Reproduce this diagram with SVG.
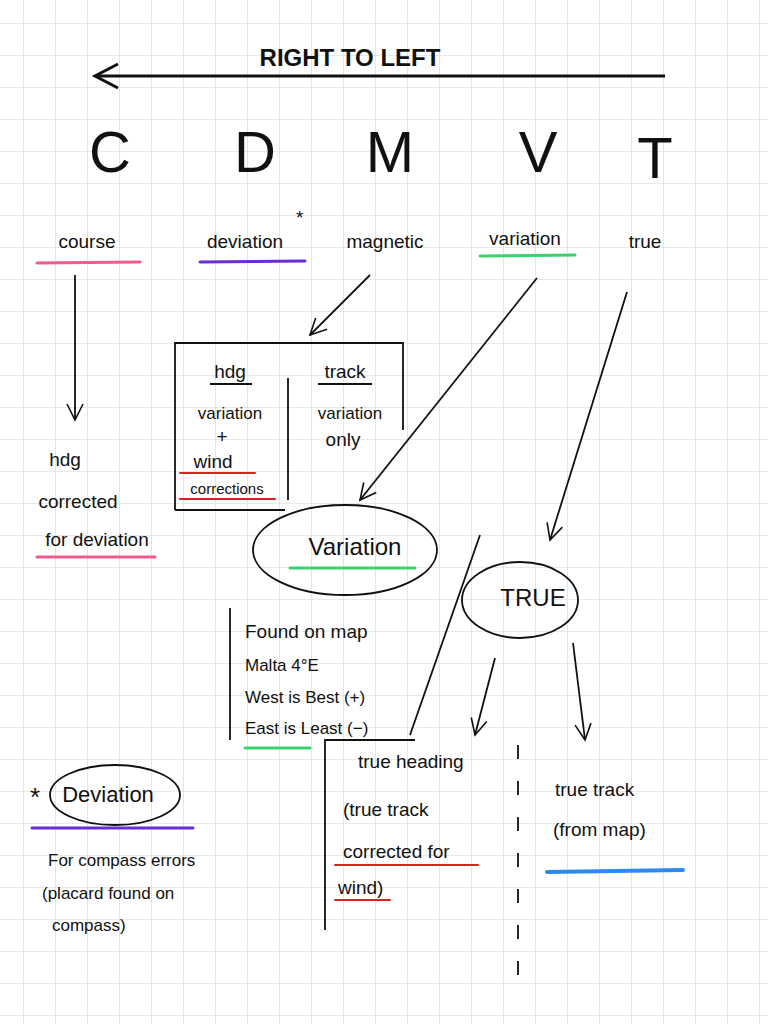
<svg xmlns="http://www.w3.org/2000/svg" width="768" height="1024" viewBox="0 0 768 1024">
<defs>
<pattern id="grid" width="32" height="32" patternUnits="userSpaceOnUse" x="-8" y="-8">
<path d="M32 0V32M0 32H32" fill="none" stroke="#d4d4d4" stroke-width="1.2"/>
</pattern>
<marker id="ah" viewBox="0 0 20 20" refX="18" refY="10" markerWidth="20" markerHeight="20" markerUnits="userSpaceOnUse" orient="auto">
<path d="M2 2L18 10L2 18" fill="none" stroke="#111" stroke-width="1.6"/>
</marker>
<style>
text{font-family:"Liberation Sans",sans-serif;fill:#111;font-size:19px}
.big{font-size:58px;font-weight:300;text-anchor:middle}
.ln{stroke:#111;stroke-width:1.8;fill:none}
.u{stroke-width:3;fill:none;stroke-linecap:round}
</style>
</defs>
<rect width="768" height="1024" fill="#fff"/>
<rect width="768" height="1024" fill="url(#grid)"/>
<text x="350" y="66" text-anchor="middle" font-weight="bold" style="font-size:24px">RIGHT TO LEFT</text>
<line class="ln" x1="665" y1="76" x2="95" y2="76" stroke-width="3" style="stroke-width:3"/>
<path class="ln" d="M118 64L95 76L118 88" style="stroke-width:3"/>
<text class="big" x="110" y="172">C</text>
<text class="big" x="255" y="172">D</text>
<text class="big" x="390" y="172">M</text>
<text class="big" x="538" y="172">V</text>
<text class="big" x="655" y="178">T</text>
<text x="87" y="248" text-anchor="middle">course</text>
<text x="245" y="248" text-anchor="middle">deviation</text>
<text x="296" y="224">*</text>
<text x="385" y="248" text-anchor="middle">magnetic</text>
<text x="525" y="245" text-anchor="middle">variation</text>
<text x="645" y="248" text-anchor="middle">true</text>
<line class="u" x1="37" y1="263" x2="140" y2="262" stroke="#ee5b8d"/>
<line class="u" x1="200" y1="262" x2="305" y2="261" stroke="#6a2bd8"/>
<line class="u" x1="480" y1="256" x2="575" y2="255" stroke="#3ad16f"/>
<g id="connectors">
<line class="ln" x1="75" y1="275" x2="75" y2="420" marker-end="url(#ah)"/>
<line class="ln" x1="370" y1="275" x2="310" y2="335" marker-end="url(#ah)"/>
<line class="ln" x1="537" y1="278" x2="360" y2="500" marker-end="url(#ah)"/>
<line class="ln" x1="627" y1="292" x2="550" y2="540" marker-end="url(#ah)"/>
<line class="ln" x1="495" y1="658" x2="475" y2="735" marker-end="url(#ah)"/>
<line class="ln" x1="573" y1="643" x2="585" y2="740" marker-end="url(#ah)"/>
<line class="ln" x1="480" y1="535" x2="410" y2="735"/>
</g>
<g id="box">
<path class="ln" d="M175 510V343H403V430M288 378V500M175 510H285"/>
<text x="230" y="378" text-anchor="middle">hdg</text>
<line class="ln" x1="210" y1="384" x2="252" y2="384"/>
<text x="345" y="378" text-anchor="middle">track</text>
<line class="ln" x1="318" y1="384" x2="372" y2="384"/>
<text x="230" y="419" text-anchor="middle" style="font-size:17px">variation</text>
<text x="222" y="443" text-anchor="middle">+</text>
<text x="213" y="468" text-anchor="middle">wind</text>
<line class="u" x1="180" y1="473" x2="255" y2="473" stroke="#e02020" style="stroke-width:2"/>
<text x="227" y="494" text-anchor="middle" style="font-size:15px">corrections</text>
<line class="u" x1="180" y1="499" x2="275" y2="499" stroke="#e02020" style="stroke-width:2"/>
<text x="350" y="419" text-anchor="middle" style="font-size:17px">variation</text>
<text x="343" y="446" text-anchor="middle">only</text>
</g>
<g id="hdg">
<text x="65" y="466" text-anchor="middle">hdg</text>
<text x="78" y="508" text-anchor="middle">corrected</text>
<text x="97" y="546" text-anchor="middle">for deviation</text>
<line class="u" x1="37" y1="557" x2="155" y2="557" stroke="#ee5b8d"/>
</g>
<g id="variation">
<ellipse class="ln" cx="345" cy="550" rx="92" ry="45"/>
<text x="355" y="555" text-anchor="middle" style="font-size:24px">Variation</text>
<line class="u" x1="290" y1="568" x2="415" y2="568" stroke="#3ad16f"/>
</g>
<g id="true">
<ellipse class="ln" cx="520" cy="600" rx="58" ry="38"/>
<text x="533" y="606" text-anchor="middle" style="font-size:24px">TRUE</text>
</g>
<g id="found">
<line class="ln" x1="230" y1="608" x2="230" y2="740"/>
<text x="245" y="638">Found on map</text>
<text x="245" y="671" style="font-size:17px">Malta 4°E</text>
<text x="245" y="703" style="font-size:17px">West is Best (+)</text>
<text x="245" y="734" style="font-size:17px">East is Least (−)</text>
<line class="u" x1="245" y1="748" x2="310" y2="748" stroke="#3ad16f"/>
</g>
<g id="trueheading">
<path class="ln" d="M325 930V740H415"/>
<text x="358" y="768">true heading</text>
<text x="343" y="816">(true track</text>
<text x="343" y="858">corrected for</text>
<line class="u" x1="335" y1="865" x2="478" y2="865" stroke="#e02020" style="stroke-width:2"/>
<text x="338" y="894">wind)</text>
<line class="u" x1="335" y1="900" x2="390" y2="900" stroke="#e02020" style="stroke-width:2"/>
</g>
<line class="ln" x1="518" y1="745" x2="518" y2="990" stroke-dasharray="14 22"/>
<g id="truetrack">
<text x="555" y="796">true track</text>
<text x="553" y="836">(from map)</text>
<line class="u" x1="547" y1="872" x2="683" y2="870" stroke="#2a8af0" style="stroke-width:4"/>
</g>
<g id="deviation">
<text x="30" y="806" style="font-size:26px">*</text>
<ellipse class="ln" cx="115" cy="795" rx="65" ry="30"/>
<text x="108" y="802" text-anchor="middle" style="font-size:22px">Deviation</text>
<line class="u" x1="32" y1="828" x2="193" y2="828" stroke="#6a2bd8"/>
<text x="48" y="866" style="font-size:17px">For compass errors</text>
<text x="42" y="899" style="font-size:17px">(placard found on</text>
<text x="52" y="931" style="font-size:17px">compass)</text>
</g>
</svg>
